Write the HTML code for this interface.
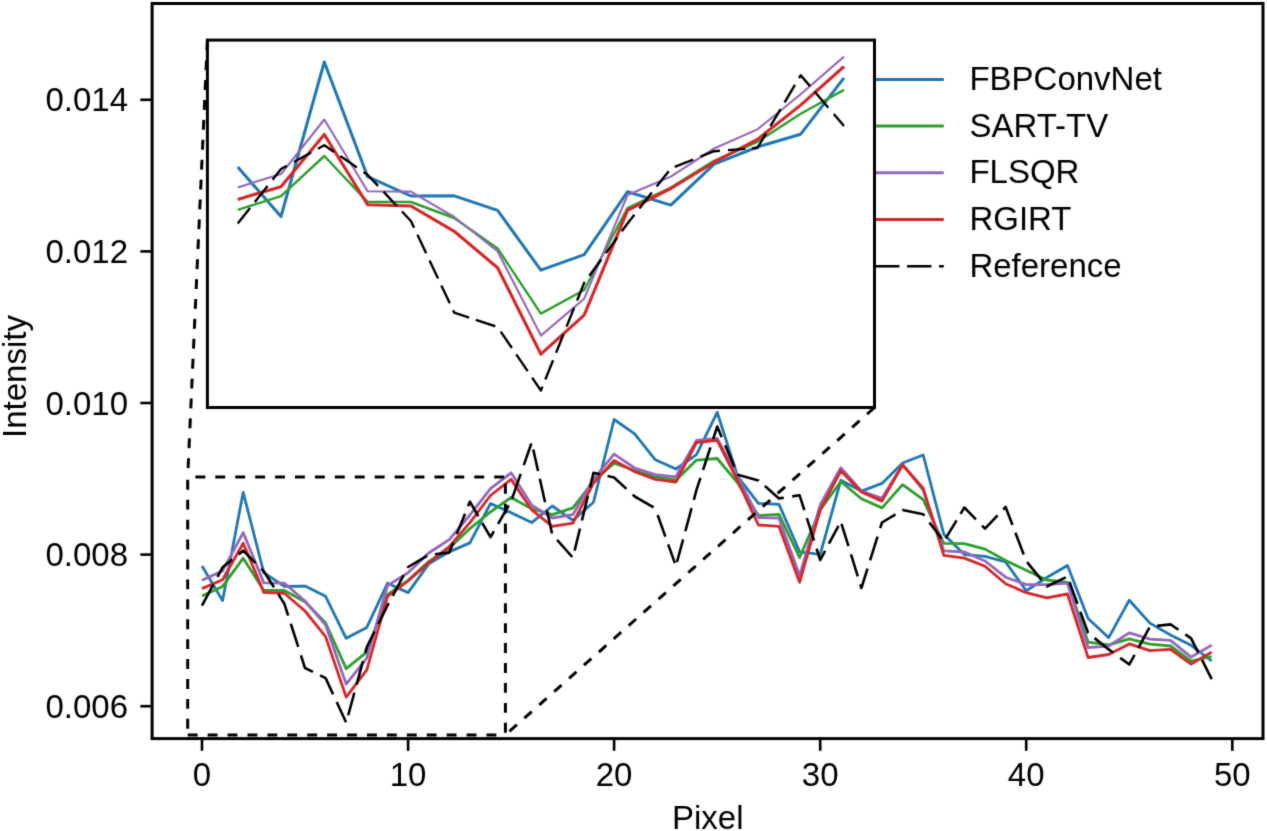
<!DOCTYPE html>
<html><head><meta charset="utf-8"><title>Intensity profile</title>
<style>html,body{margin:0;padding:0;background:#fff}body{width:1267px;height:831px;overflow:hidden}svg{display:block}text{font-family:"Liberation Sans",Arial,sans-serif;font-size:33px;fill:#000}</style>
</head><body>
<svg width="1267" height="831" viewBox="0 0 1267 831">
<defs><filter id="soft" x="0" y="0" width="1267" height="831" filterUnits="userSpaceOnUse" color-interpolation-filters="sRGB"><feConvolveMatrix order="3" kernelMatrix="1 6 1 6 36 6 1 6 1" divisor="64" edgeMode="duplicate" preserveAlpha="true"/></filter></defs>
<rect width="1267" height="831" fill="#fff"/>
<g filter="url(#soft)">
<rect width="1267" height="831" fill="#fff"/>
<g fill="none" stroke-linejoin="round" stroke-linecap="butt">
<polyline points="202.0,566.0 222.6,600.6 243.2,492.3 263.8,572.7 284.4,586.3 305.0,586.1 325.6,596.3 346.2,638.3 366.8,627.4 387.5,583.3 408.1,592.6 428.7,563.9 449.3,551.9 469.9,542.9 490.5,503.5 511.1,512.7 531.7,522.6 552.3,506.0 572.9,520.3 593.5,502.2 614.1,419.5 634.7,433.8 655.3,459.8 675.9,469.0 696.5,454.7 717.2,412.3 737.8,476.6 758.4,503.3 779.0,504.4 799.6,551.8 820.2,554.3 840.8,480.3 861.4,491.1 882.0,483.4 902.6,463.0 923.2,455.0 943.8,534.2 964.4,554.6 985.0,556.4 1005.6,562.0 1026.2,590.8 1046.8,577.5 1067.5,565.5 1088.1,618.4 1108.7,637.7 1129.3,600.2 1149.9,623.1 1170.5,635.0 1191.1,645.3 1211.7,661.0" stroke="#1f77b4" stroke-width="2.8"/>
<polyline points="202.0,596.0 222.6,586.4 243.2,558.2 263.8,590.4 284.4,590.5 305.0,601.7 325.6,623.0 346.2,668.7 366.8,652.1 387.5,594.7 408.1,580.3 428.7,561.6 449.3,548.3 469.9,528.6 490.5,511.9 511.1,497.5 531.7,508.9 552.3,514.6 572.9,507.9 593.5,481.3 614.1,463.3 634.7,470.5 655.3,476.6 675.9,480.2 696.5,460.1 717.2,458.5 737.8,483.2 758.4,515.6 779.0,514.4 799.6,557.5 820.2,510.0 840.8,481.5 861.4,498.8 882.0,507.9 902.6,484.6 923.2,499.7 943.8,543.3 964.4,543.6 985.0,549.1 1005.6,560.5 1026.2,570.3 1046.8,580.0 1067.5,582.5 1088.1,642.1 1108.7,644.8 1129.3,638.8 1149.9,644.2 1170.5,646.0 1191.1,661.1 1211.7,656.5" stroke="#2ca02c" stroke-width="2.8"/>
<polyline points="202.0,580.2 222.6,570.9 243.2,532.6 263.8,582.9 284.4,583.2 305.0,601.0 325.6,625.0 346.2,684.1 366.8,658.2 387.5,585.6 408.1,572.7 428.7,553.0 449.3,539.6 469.9,515.0 490.5,488.6 511.1,472.8 531.7,505.1 552.3,518.0 572.9,514.6 593.5,479.4 614.1,454.2 634.7,468.0 655.3,474.7 675.9,476.8 696.5,440.4 717.2,438.5 737.8,477.0 758.4,517.5 779.0,518.2 799.6,575.6 820.2,505.0 840.8,467.6 861.4,491.0 882.0,498.2 902.6,464.5 923.2,490.0 943.8,550.8 964.4,552.0 985.0,561.0 1005.6,577.2 1026.2,584.6 1046.8,584.6 1067.5,583.2 1088.1,647.7 1108.7,646.0 1129.3,632.9 1149.9,639.1 1170.5,640.4 1191.1,657.1 1211.7,645.1" stroke="#9467bd" stroke-width="2.8"/>
<polyline points="202.0,588.6 222.6,579.7 243.2,543.2 263.8,592.4 284.4,593.3 305.0,611.0 325.6,636.6 346.2,697.1 366.8,669.8 387.5,596.3 408.1,581.0 428.7,562.6 449.3,546.6 469.9,522.6 490.5,495.5 511.1,479.4 531.7,509.8 552.3,526.4 572.9,523.2 593.5,483.2 614.1,460.4 634.7,471.8 655.3,479.4 675.9,482.1 696.5,442.5 717.2,440.4 737.8,481.0 758.4,525.0 779.0,526.4 799.6,582.3 820.2,510.0 840.8,470.8 861.4,491.9 882.0,501.1 902.6,465.0 923.2,488.3 943.8,555.3 964.4,558.1 985.0,566.2 1005.6,583.8 1026.2,592.7 1046.8,597.9 1067.5,594.0 1088.1,657.5 1108.7,654.5 1129.3,643.9 1149.9,650.7 1170.5,649.3 1191.1,664.1 1211.7,652.1" stroke="#d62728" stroke-width="2.8"/>
<polyline points="202.0,605.6 222.6,567.3 243.2,550.7 263.8,571.3 284.4,603.8 305.0,668.0 325.6,678.1 346.2,722.6 366.8,647.1 387.5,605.5 408.1,567.0 428.7,554.9 449.3,552.6 469.9,501.7 490.5,537.2 511.1,501.3 531.7,442.5 552.3,534.6 572.9,557.7 593.5,472.8 614.1,477.5 634.7,496.5 655.3,508.4 675.9,566.0 696.5,489.9 717.2,426.6 737.8,474.7 758.4,480.4 779.0,498.4 799.6,495.3 820.2,560.0 840.8,521.5 861.4,588.0 882.0,522.5 902.6,510.0 923.2,514.2 943.8,541.5 964.4,507.5 985.0,528.6 1005.6,507.0 1026.2,561.0 1046.8,586.5 1067.5,576.6 1088.1,633.0 1108.7,649.4 1129.3,664.5 1149.9,626.6 1170.5,624.4 1191.1,638.3 1211.7,679.2" stroke="#000000" stroke-width="2.6" stroke-dasharray="24.0 8.7 23.1 8.3 23.1 8.3 22.5 8.1 23.8 8.6 24.4 8.8 22.1 8.0 23.9 8.6 22.3 8.0 23.4 8.4 24.2 8.7 23.3 8.4 23.3 8.4 23.3 8.4 22.9 8.2 25.3 9.1 22.1 8.0 21.7 7.8 23.3 8.4 21.3 7.7 26.1 9.4 22.8 8.2 22.1 8.0 24.0 8.6 23.4 8.4 22.8 8.2 22.8 8.2 25.1 9.0 21.6 7.8 23.5 8.5 24.6 8.9 23.0 8.3 19.9 7.2 23.5 8.5 23.8 8.6 22.9 8.3 23.9 8.6 24.6 8.9 23.2 8.3 22.4 8.1 23.6 8.5 23.1 8.3 23.6 8.5 22.3 8.0 20.3 7.3 23.5 8.5 23.1 8.3 24.1 8.7 24.8 8.9 21.8 7.9 23.3 8.4 20.2 7.3 21.1 7.6 24.0 8.7 22.5 8.1 22.8 8.2 23.3 8.4 22.8 8.2 21.4 7.7 23.2 8.4 22.7 8.2 23.8 8.6 22.3 8.0 23.0 8.3 23.1 8.3 22.9 8.3 60.0 0.0"/>
</g>
<g fill="none">
<line x1="875" y1="79.5" x2="943.8" y2="79.5" stroke="#1f77b4" stroke-width="3.0"/>
<line x1="875" y1="126.1" x2="943.8" y2="126.1" stroke="#2ca02c" stroke-width="3.0"/>
<line x1="875" y1="172.7" x2="943.8" y2="172.7" stroke="#9467bd" stroke-width="3.0"/>
<line x1="875" y1="219.6" x2="943.8" y2="219.6" stroke="#d62728" stroke-width="3.0"/>
<line x1="875" y1="266.2" x2="943.8" y2="266.2" stroke="#000000" stroke-width="2.5" stroke-dasharray="24.4 7.6"/>
</g>
<text x="969.4" y="89.9">FBPConvNet</text>
<text x="969.4" y="136.5">SART-TV</text>
<text x="969.4" y="183.1">FLSQR</text>
<text x="969.4" y="230.0">RGIRT</text>
<text x="969.4" y="276.6">Reference</text>
<g stroke="#000" fill="none">
<rect x="152.1" y="3.5" width="1110.9" height="735.1" stroke-width="3"/>
<line x1="202.0" y1="739" x2="202.0" y2="750.8" stroke-width="2.6"/>
<line x1="408.1" y1="739" x2="408.1" y2="750.8" stroke-width="2.6"/>
<line x1="614.1" y1="739" x2="614.1" y2="750.8" stroke-width="2.6"/>
<line x1="820.2" y1="739" x2="820.2" y2="750.8" stroke-width="2.6"/>
<line x1="1026.2" y1="739" x2="1026.2" y2="750.8" stroke-width="2.6"/>
<line x1="1232.3" y1="739" x2="1232.3" y2="750.8" stroke-width="2.6"/>
<line x1="140.3" y1="706.2" x2="151" y2="706.2" stroke-width="2.6"/>
<line x1="140.3" y1="554.6" x2="151" y2="554.6" stroke-width="2.6"/>
<line x1="140.3" y1="403.0" x2="151" y2="403.0" stroke-width="2.6"/>
<line x1="140.3" y1="251.4" x2="151" y2="251.4" stroke-width="2.6"/>
<line x1="140.3" y1="99.8" x2="151" y2="99.8" stroke-width="2.6"/>
</g>
<text x="202.0" y="786" text-anchor="middle">0</text>
<text x="408.1" y="786" text-anchor="middle">10</text>
<text x="614.1" y="786" text-anchor="middle">20</text>
<text x="820.2" y="786" text-anchor="middle">30</text>
<text x="1026.2" y="786" text-anchor="middle">40</text>
<text x="1232.3" y="786" text-anchor="middle">50</text>
<text x="128" y="717.8" text-anchor="end">0.006</text>
<text x="128" y="566.2" text-anchor="end">0.008</text>
<text x="128" y="414.6" text-anchor="end">0.010</text>
<text x="128" y="263.0" text-anchor="end">0.012</text>
<text x="128" y="111.4" text-anchor="end">0.014</text>
<text x="707.8" y="828.5" text-anchor="middle">Pixel</text>
<text transform="translate(25.6,376.5) rotate(-90)" text-anchor="middle">Intensity</text>
<rect x="207.4" y="40.1" width="667.1" height="367.4" fill="#fff" stroke="#000" stroke-width="3"/>
<g fill="none" stroke-linejoin="round" stroke-linecap="butt">
<polyline points="237.7,167.1 281.0,216.5 324.3,62.0 367.6,176.6 410.9,196.0 454.2,195.8 497.6,210.4 540.9,270.2 584.2,254.7 627.5,191.8 670.8,205.1 714.1,164.1 757.4,147.0 800.7,134.2 844.0,77.9" stroke="#1f77b4" stroke-width="3.0"/>
<polyline points="237.7,209.9 281.0,196.2 324.3,156.0 367.6,201.9 410.9,202.0 454.2,218.0 497.6,248.4 540.9,313.6 584.2,290.0 627.5,208.0 670.8,187.5 714.1,160.8 757.4,141.8 800.7,113.7 844.0,89.9" stroke="#2ca02c" stroke-width="2.4"/>
<polyline points="237.7,187.4 281.0,174.1 324.3,119.5 367.6,191.2 410.9,191.6 454.2,217.0 497.6,251.3 540.9,335.6 584.2,298.7 627.5,195.0 670.8,176.6 714.1,148.5 757.4,129.4 800.7,94.3 844.0,56.6" stroke="#9467bd" stroke-width="2.1"/>
<polyline points="237.7,199.4 281.0,186.7 324.3,134.5 367.6,204.7 410.9,206.0 454.2,231.3 497.6,267.8 540.9,354.2 584.2,315.2 627.5,210.4 670.8,188.5 714.1,162.2 757.4,139.4 800.7,105.1 844.0,66.5" stroke="#d62728" stroke-width="3.1"/>
<polyline points="237.7,223.6 281.0,169.0 324.3,145.3 367.6,174.7 410.9,221.0 454.2,312.6 497.6,327.0 540.9,390.5 584.2,282.8 627.5,223.5 670.8,168.5 714.1,151.2 757.4,148.0 800.7,75.3 844.0,126.0" stroke="#000000" stroke-width="2.4" stroke-dasharray="19.9 7.7 20.5 8.0 20.4 7.9 19.7 7.7 19.1 7.4 20.2 7.9 20.3 7.9 19.6 7.6 20.4 7.9 20.4 7.9 19.9 7.7 19.8 7.7 18.3 7.1 20.5 8.0 19.8 7.7 20.3 7.9 19.8 7.7 20.7 8.1 20.2 7.9 20.3 7.9 20.0 7.8 20.2 7.8 19.4 7.6 20.8 8.1 20.1 7.8 19.5 7.6 19.9 7.8 20.6 8.0 17.4 6.8 22.1 8.6 20.0 7.8 20.2 7.9 17.6 6.8 21.5 8.4 60.0 0.0"/>
</g>
<g stroke="#000" stroke-width="3" fill="none" stroke-dasharray="9.9 10.02">
<line x1="187.7" y1="734.9" x2="505.4" y2="734.9"/>
<line x1="505.4" y1="734.9" x2="505.4" y2="476.9" stroke-dashoffset="-2.2"/>
<line x1="505.4" y1="476.9" x2="187.7" y2="476.9" stroke-dashoffset="-1.3"/>
<line x1="187.7" y1="476.9" x2="187.7" y2="734.9" stroke-dashoffset="-2.9"/>
<line x1="207.4" y1="40.3" x2="187.7" y2="476.9"/>
<line x1="874.5" y1="407.5" x2="505.4" y2="734.9"/>
</g>
</g>
</svg></body></html>
